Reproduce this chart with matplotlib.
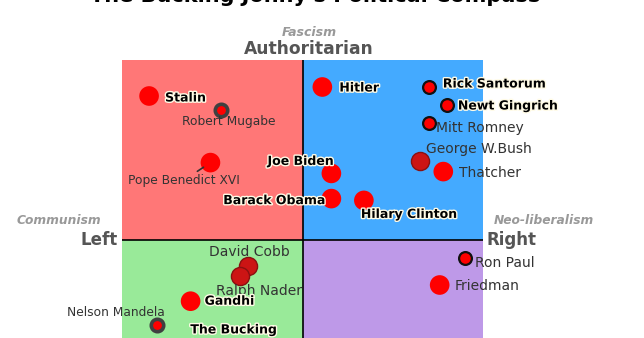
import matplotlib
matplotlib.use("Agg")
import matplotlib.pyplot as plt
import matplotlib.patheffects as pe

# ---- data -------------------------------------------------------------
names = ["Stalin", "Robert Mugabe", "Pope Benedict XVI", "Hitler", "Rick Santorum",
         "Newt Gingrich", "Mitt Romney", "George W.Bush", "Thatcher", "Joe Biden",
         "Barack Obama", "Hilary Clinton", "Ron Paul", "Friedman", "David Cobb",
         "Ralph Nader", "Gandhi", "Nelson Mandela", "The Bucking\nJonny"]
econ = [-8.5, -4.5, -5.1, 1.1, 7.0, 8.0, 7.0, 6.5, 7.8, 1.6, 1.6, 3.4, 9.0, 7.6,
        -3.0, -3.45, -6.2, -8.05, -6.6]
social = [8.0, 7.2, 4.3, 8.5, 8.5, 7.5, 6.5, 4.4, 3.8, 3.7, 2.3, 2.2, -1.0, -2.5,
          -1.45, -2.0, -3.4, -4.7, -6.3]
# marker style: big = plain red dot, ring = small dot with dark rim,
# gray = small dot with gray rim, dark = dark red dot
kinds = ["big", "gray", "big", "big", "ring", "ring", "ring", "dark", "big", "big",
         "big", "big", "ring", "big", "dark", "dark", "big", "gray", "big"]
# label style: bold, plain, wide
label_style = ["bold", "plain", "plain", "bold", "bold", "bold", "wide", "wide", "wide",
               "bold", "bold", "bold", "wide", "wide", "wide", "wide", "bold", "plain",
               "bold"]

title = "The Bucking Jonny's Political Compass"

# label placement (offset in pixels, alignment)
label_pos = {
    "Stalin": (16, -2, "left"),
    "Robert Mugabe": (7, -11, "center"),
    "Pope Benedict XVI": (-27, -18, "center"),
    "Hitler": (17, -1, "left"),
    "Rick Santorum": (14, 3, "left"),
    "Newt Gingrich": (11, -1, "left"),
    "Mitt Romney": (7, -5, "left"),
    "George W.Bush": (6, 12, "left"),
    "Thatcher": (16, -1, "left"),
    "Joe Biden": (2, 12, "right"),
    "Barack Obama": (-6, -2, "right"),
    "Hilary Clinton": (-3, -14, "left"),
    "Ron Paul": (10, -5, "left"),
    "Friedman": (15, -1, "left"),
    "David Cobb": (1, 14, "center"),
    "Ralph Nader": (19, -15, "center"),
    "Gandhi": (14, 0, "left"),
    "Nelson Mandela": (8, 12, "right"),
    "The Bucking\nJonny": (7, 16, "left"),
}

W, H = 644, 338
fig = plt.figure(figsize=(W / 100, H / 100), dpi=100)

# plot square: 361 x 360 px, top at y=60, extends past the bottom edge
left, right, top, bottom = 122, 483, 60, 420
ax = fig.add_axes([left / W, 1 - bottom / H, (right - left) / W, (bottom - top) / H])
ax.set_xlim(-10, 10)
ax.set_ylim(-10, 10)
ax.axis("off")

# quadrants
quads = [((-10, 0), "#ff7777"), ((0, 0), "#44aaff"),
         ((-10, -10), "#99ea99"), ((0, -10), "#be99e8")]
for (x0, y0), c in quads:
    ax.add_patch(plt.Rectangle((x0, y0), 10, 10, facecolor=c, edgecolor="none", zorder=0))
ax.axhline(0, color="black", lw=1.2, zorder=1)
ax.axvline(0, color="black", lw=1.2, zorder=1)

styles = {
    "big": dict(s=200, c="#ff0000", edgecolors="none", linewidths=0),
    "ring": dict(s=85, c="#ff0000", edgecolors="#111111", linewidths=1.6),
    "gray": dict(s=80, c="#ff0000", edgecolors="#404040", linewidths=2.6),
    "dark": dict(s=170, c="#cc1414", edgecolors="#8a1010", linewidths=1.0),
}

halo = [pe.withStroke(linewidth=2.0, foreground="#fffbe6")]
text_fmt = {
    "bold": dict(fontsize=9, fontweight="bold", color="black", path_effects=halo),
    "plain": dict(fontsize=8.8, color="#333333"),
    "wide": dict(fontsize=10, color="#333333"),
}
px = 0.72  # points per pixel at 100 dpi

for n, x, y, k, st in zip(names, econ, social, kinds, label_style):
    ax.scatter([x], [y], zorder=3, clip_on=False, **styles[k])
    dx, dy, ha = label_pos[n]
    kw = dict(xy=(x, y), xytext=(dx * px, dy * px), textcoords="offset points",
              ha=ha, va="center", zorder=4, annotation_clip=False)
    if n == "Pope Benedict XVI":
        kw["arrowprops"] = dict(arrowstyle="-", color="#333333", lw=1.2,
                                shrinkA=0, shrinkB=6)
    ax.annotate(n, **kw, **text_fmt[st])

# axis names
def ftxt(xp, yp, s, **kw):
    fig.text(xp / W, 1 - yp / H, s, **kw)

ftxt(309, 49, "Authoritarian", ha="center", va="center", fontsize=12.3,
     fontweight="bold", color="#555555")
ftxt(309, 33, "Fascism", ha="center", va="center", fontsize=9,
     fontweight="bold", style="italic", color="#999999")
ftxt(118, 240, "Left", ha="right", va="center", fontsize=12,
     fontweight="bold", color="#555555")
ftxt(59, 221, "Communism", ha="center", va="center", fontsize=8.8,
     fontweight="bold", style="italic", color="#999999")
ftxt(486, 240, "Right", ha="left", va="center", fontsize=12,
     fontweight="bold", color="#555555")
ftxt(494, 221, "Neo-liberalism", ha="left", va="center", fontsize=8.8,
     fontweight="bold", style="italic", color="#999999")
ftxt(315, 2, title, ha="center", va="baseline", fontsize=15,
     fontweight="bold", color="black")

fig.savefig("out.png", dpi=100)
